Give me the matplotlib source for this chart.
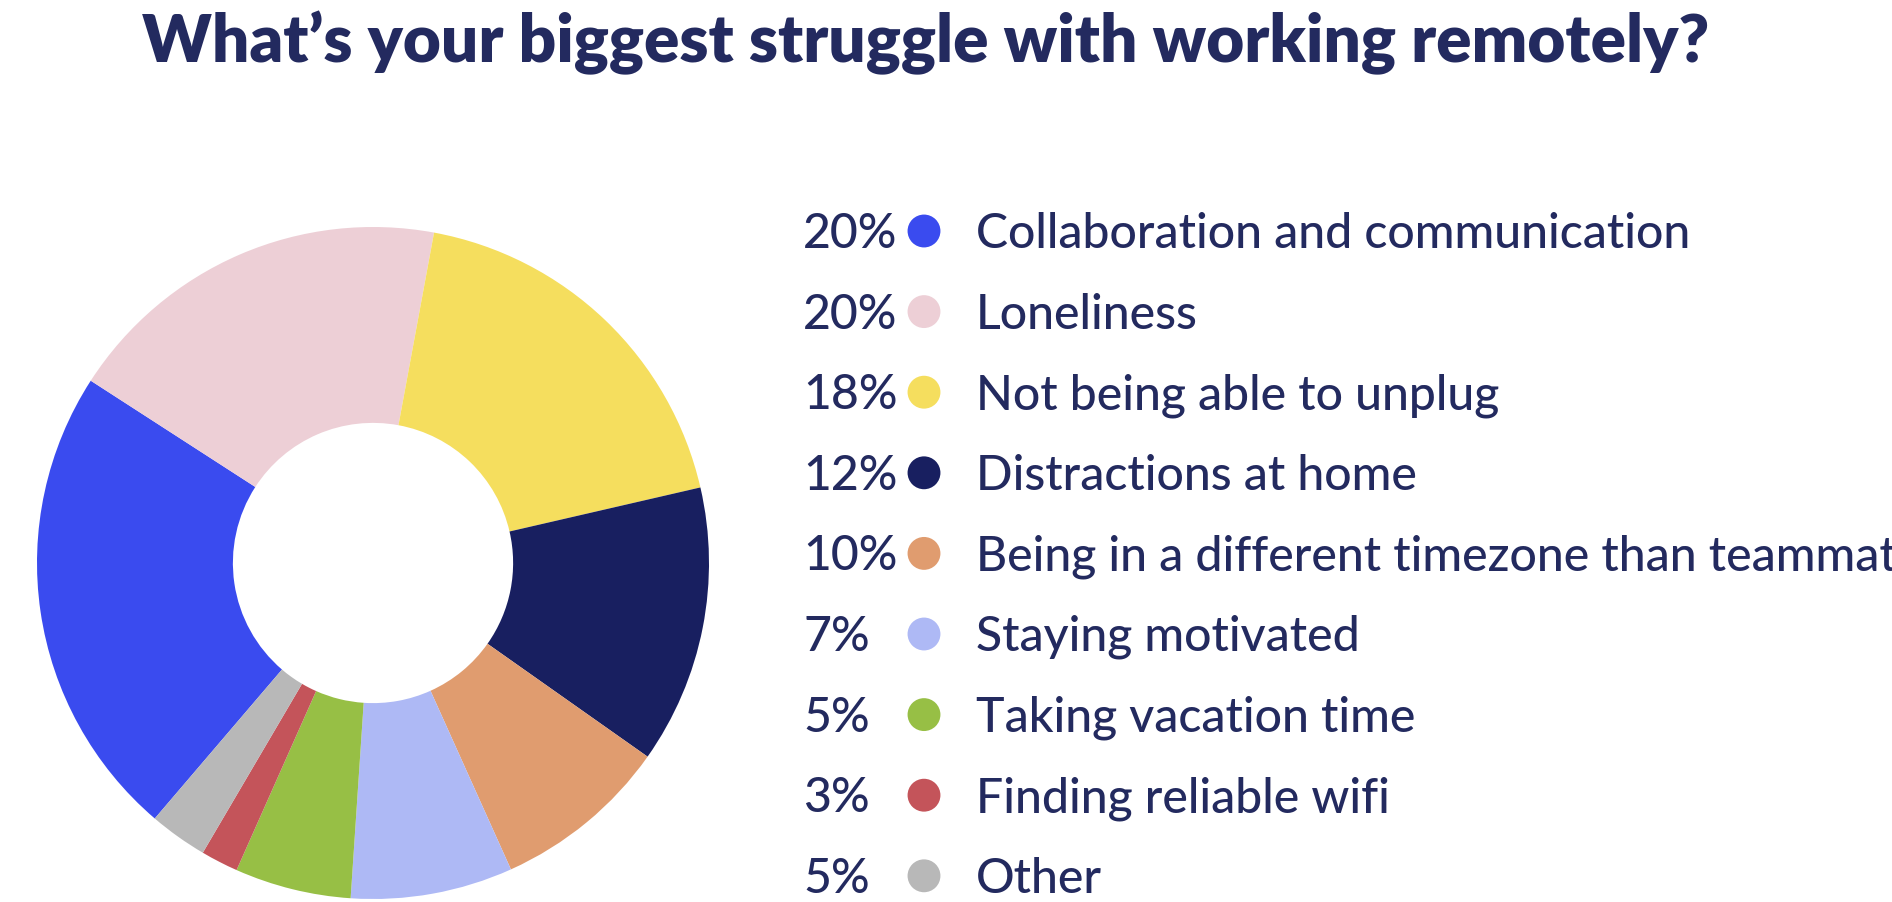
import matplotlib
matplotlib.use("Agg")
import matplotlib.pyplot as plt

title = "What’s your biggest struggle with working remotely?"

labels = [
    "Collaboration and communication",
    "Loneliness",
    "Not being able to unplug",
    "Distractions at home",
    "Being in a different timezone than teammates",
    "Staying motivated",
    "Taking vacation time",
    "Finding reliable wifi",
    "Other",
]
pct_labels = ["20%", "20%", "18%", "12%", "10%", "7%", "5%", "3%", "5%"]
# wedge sizes as drawn in the picture (they don't quite match the printed %)
wedge_sizes = [22.9, 18.8, 18.5, 13.4, 8.5, 7.8, 5.6, 1.8, 2.8]
colors = ["#3a4bef", "#edcfd6", "#f5de5e", "#181f60", "#e09c6f",
          "#aeb9f5", "#97bf45", "#c4545a", "#b8b8b8"]

text_color = "#232a5f"
W, H = 1892, 903

plt.rcParams["font.family"] = ["Lato", "DejaVu Sans"]

fig = plt.figure(figsize=(W / 100, H / 100), dpi=100)

# donut: centre (373, 564) px, outer radius 336 px
cx, cy, R = 373, 564, 336
ax = fig.add_axes([(cx - R) / W, (H - cy - R) / H, 2 * R / W, 2 * R / H])
ax.pie(wedge_sizes, colors=colors, startangle=229.5, counterclock=False,
       radius=1.0, wedgeprops=dict(width=0.583, linewidth=0))
ax.set_xlim(-1, 1)
ax.set_ylim(-1, 1)
ax.set_aspect("equal")
ax.axis("off")

# overlay in pixel coordinates for title and legend
ov = fig.add_axes([0, 0, 1, 1])
ov.set_xlim(0, W)
ov.set_ylim(H, 0)
ov.axis("off")

renderer = fig.canvas.get_renderer()


def fit_size(txt, target_px, size, **kw):
    t = ov.text(0, 0, txt, fontsize=size, **kw)
    w = t.get_window_extent(renderer).width
    t.remove()
    return size * target_px / w


title_size = fit_size(title, 1568, 40, fontweight="heavy")
ov.text(926, 62, title, ha="center", va="baseline", fontsize=title_size,
        fontweight="heavy", color=text_color)

leg_size = fit_size(labels[0], 714, 30, fontweight="medium")
y0, step = 232, 80.6
for i, (p, lab, c) in enumerate(zip(pct_labels, labels, colors)):
    y = y0 + i * step
    ov.text(803, y + 16, p, ha="left", va="baseline", fontsize=leg_size,
            fontweight="medium", color=text_color)
    ov.scatter([924], [y], s=560, color=c, edgecolors="none")
    ov.text(976, y + 16, lab, ha="left", va="baseline", fontsize=leg_size,
            fontweight="medium", color=text_color)

fig.savefig("out.png", dpi=100)
